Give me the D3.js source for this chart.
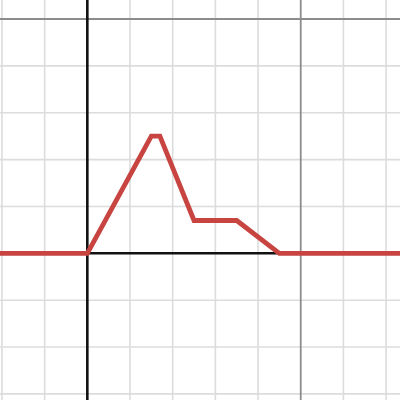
<!DOCTYPE html>
<html>
<head>
<meta charset="utf-8">
<script src="https://cdn.jsdelivr.net/npm/d3@7"></script>
<style>
html,body{margin:0;padding:0;background:#fff;}
svg{display:block;}
</style>
</head>
<body>
<svg id="chart" width="400" height="400"></svg>
<script>
const xValues = [-3, 0, 1.5, 1.7, 2.5, 3.5, 4.5, 8];
const yValues = [0, 0, 2.5, 2.5, 0.7, 0.7, 0, 0];
const xMinorTicks = [-2, -1, 0, 1, 2, 3, 4, 5, 6, 7];
const yMinorTicks = [-3, -2, -1, 0, 1, 2, 3, 4, 5];
const xMajorTicks = [5];
const yMajorTicks = [5];

const W = 400, H = 400;
const svg = d3.select("#chart");
const x = d3.scaleLinear().domain([-2.046, 7.326]).range([0, W]);
const y = d3.scaleLinear().domain([-3.13, 5.405]).range([H, 0]);

const g = svg.append("g");
g.selectAll("line.vminor").data(xMinorTicks.filter(d => d !== 0 && !xMajorTicks.includes(d))).join("line")
  .attr("x1", d => x(d)).attr("x2", d => x(d)).attr("y1", 0).attr("y2", H)
  .attr("stroke", "#dcdcdc").attr("stroke-width", 1.6);
g.selectAll("line.hminor").data(yMinorTicks.filter(d => d !== 0 && !yMajorTicks.includes(d))).join("line")
  .attr("y1", d => y(d)).attr("y2", d => y(d)).attr("x1", 0).attr("x2", W)
  .attr("stroke", "#dcdcdc").attr("stroke-width", 1.6);
g.selectAll("line.vmajor").data(xMajorTicks).join("line")
  .attr("x1", d => x(d)).attr("x2", d => x(d)).attr("y1", 0).attr("y2", H)
  .attr("stroke", "#8c8c8c").attr("stroke-width", 1.8);
g.selectAll("line.hmajor").data(yMajorTicks).join("line")
  .attr("y1", d => y(d)).attr("y2", d => y(d)).attr("x1", 0).attr("x2", W)
  .attr("stroke", "#8c8c8c").attr("stroke-width", 1.8);

// axes
g.append("line").attr("x1", x(0)).attr("x2", x(0)).attr("y1", 0).attr("y2", H)
  .attr("stroke", "#111").attr("stroke-width", 2.6);
g.append("line").attr("y1", y(0)).attr("y2", y(0)).attr("x1", 0).attr("x2", W)
  .attr("stroke", "#111").attr("stroke-width", 2.6);

const pts = xValues.map((v, i) => [v, yValues[i]]);
const line = d3.line().x(d => x(d[0])).y(d => y(d[1]));
svg.append("path").datum(pts).attr("d", line)
  .attr("fill", "none").attr("stroke", "#c74440").attr("stroke-width", 4.8)
  .attr("stroke-linejoin", "miter").attr("stroke-linecap", "butt");
</script>
</body>
</html>
